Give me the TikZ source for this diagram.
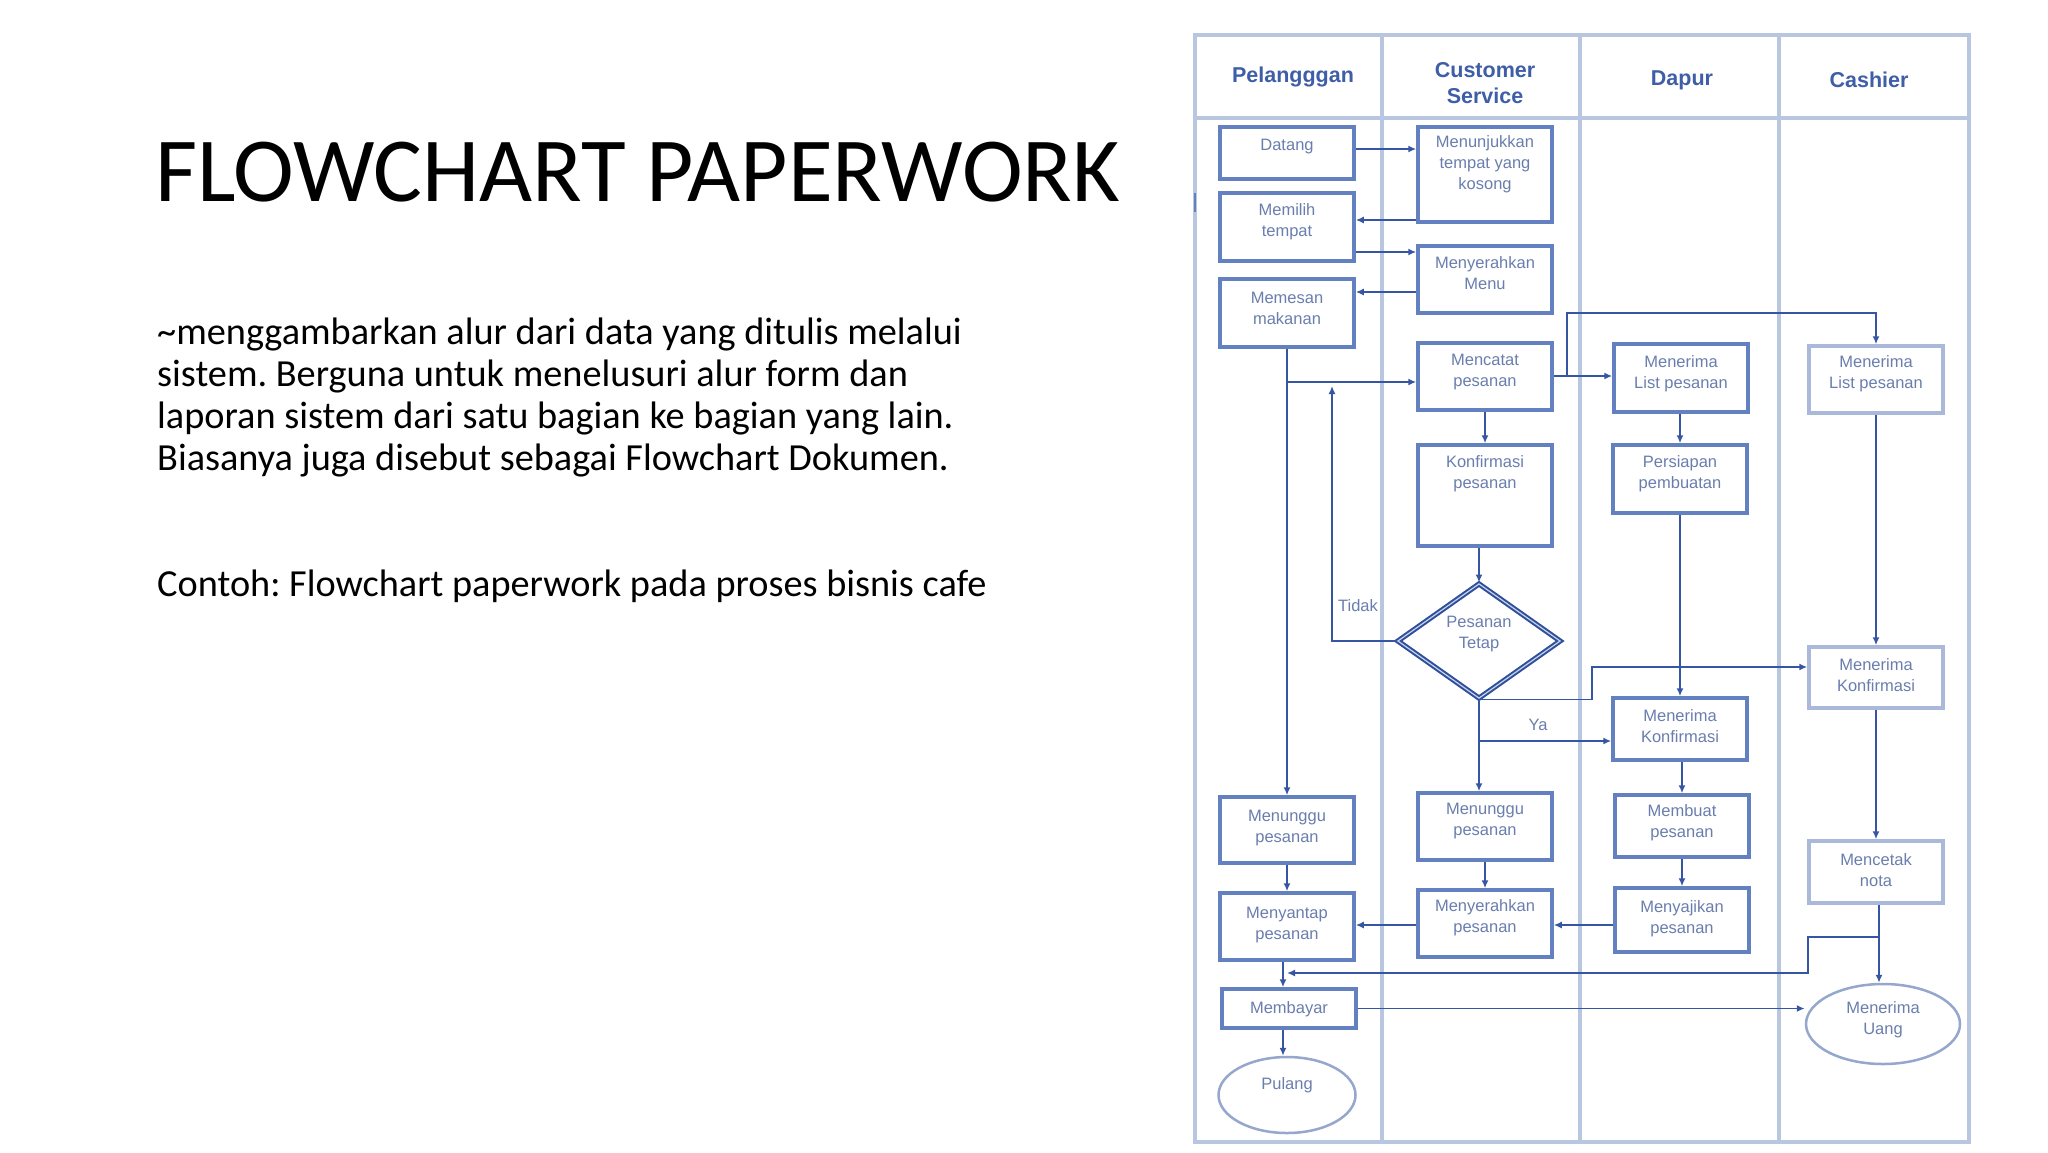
\documentclass[tikz,border=0pt]{standalone}
\usepackage{fontspec}
\setmainfont{Carlito}
\newfontfamily\dfont{Liberation Sans}
\usetikzlibrary{arrows.meta,shapes.geometric}
\definecolor{frameC}{HTML}{B8C6E0}
\definecolor{boxC}{HTML}{6381C0}
\definecolor{cashC}{HTML}{AAB9DA}
\definecolor{arrC}{HTML}{3656A3}
\definecolor{txtC}{HTML}{6A7EAE}
\definecolor{headC}{HTML}{3F5EA8}
\definecolor{diaC}{HTML}{2F4F9A}
\definecolor{diaIn}{HTML}{C8D3EA}
\definecolor{ellC}{HTML}{95A7CD}
\frenchspacing
\begin{document}
\begin{tikzpicture}[x=1pt,y=-1pt,
  bx/.style={draw=boxC,line width=3.5pt,minimum width=134pt,inner sep=0pt},
  cbx/.style={bx,draw=cashC},
  tx/.style={font=\dfont\fontsize{16.5}{21}\selectfont,text=txtC,align=center,inner sep=0pt},
  hd/.style={font=\dfont\bfseries\fontsize{21.5}{26}\selectfont,text=headC,align=center,inner sep=0pt},
  arr/.style={draw=arrC,line width=1.8pt,-{Latex[length=8pt,width=7pt]}},
  fr/.style={draw=frameC,line width=4pt},
  bodyt/.style={anchor=base west,inner sep=0pt,font=\fontsize{38.3}{42}\selectfont}]
\fill[white] (0,0) rectangle (2048,1152);
\useasboundingbox (0,0) rectangle (2048,1152);
% slide text
\node[anchor=base west,inner sep=0pt,font=\fontsize{91.6}{100}\selectfont] (title) at (155,201) {FLOWCHART PAPERWORK};
\node[bodyt] (b1) at (157,344) {\textasciitilde menggambarkan alur dari data yang ditulis melalui};
\node[bodyt] (b2) at (157,386) {sistem. Berguna untuk menelusuri alur form dan};
\node[bodyt] (b3) at (157,428) {laporan sistem dari satu bagian ke bagian yang lain.};
\node[bodyt] (b4) at (157,470) {Biasanya juga disebut sebagai Flowchart Dokumen.};
\node[bodyt] (b5) at (157,596) {Contoh: Flowchart paperwork pada proses bisnis cafe};
% swimlane frame
\draw[fr] (1195,35) rectangle (1969,1142);
\draw[fr] (1195,118) -- (1969,118);
\draw[fr] (1382,35) -- (1382,1142);
\draw[fr] (1580,35) -- (1580,1142);
\draw[fr] (1779,35) -- (1779,1142);
\draw[draw=boxC,line width=2pt] (1195,193) -- (1195,212);
\node[hd] (h1) at (1293,77) {Pelangggan};
\node[hd] (h2) at (1485,83) {Customer\\Service};
\node[hd] (h3) at (1682,80) {Dapur};
\node[hd] (h4) at (1869,80) {Cashier};
% Pelanggan
\node[bx,minimum height=52pt] (datang) at (1287,153) {};
\node[tx] (datang-t) at (1287,147) {Datang};
\node[bx,minimum height=68pt] (memilih) at (1287,227) {};
\node[tx] (memilih-t) at (1287,221.5) {Memilih\\tempat};
\node[bx,minimum height=68pt] (memesan) at (1287,313) {};
\node[tx] (memesan-t) at (1287,308.5) {Memesan\\makanan};
\node[bx,minimum height=66pt] (pmenunggu) at (1287,830) {};
\node[tx] (pmenunggu-t) at (1287,828) {Menunggu\\pesanan};
\node[bx,minimum height=67pt] (menyantap) at (1287,926.5) {};
\node[tx] (menyantap-t) at (1287,925) {Menyantap\\pesanan};
\node[bx,minimum height=39pt] (membayar) at (1289,1008.5) {};
\node[tx] (membayar-t) at (1289,1009) {Membayar};
\node[ellipse,draw=ellC,line width=2.5pt,minimum width=137pt,minimum height=76pt,inner sep=0pt] (pulang) at (1287,1095) {};
\node[tx] (pulang-t) at (1287,1085) {Pulang};
% Customer Service
\node[bx,minimum height=95pt] (menunjuk) at (1485,174.5) {};
\node[tx] (menunjuk-t) at (1485,164) {Menunjukkan\\tempat yang\\kosong};
\node[bx,minimum height=67pt] (menyerah) at (1485,279.5) {};
\node[tx] (menyerah-t) at (1485,273.5) {Menyerahkan\\Menu};
\node[bx,minimum height=67pt] (mencatat) at (1485,376.5) {};
\node[tx] (mencatat-t) at (1485,372) {Mencatat\\pesanan};
\node[bx,minimum height=101pt] (konf) at (1485,495.5) {};
\node[tx] (konf-t) at (1485,473.5) {Konfirmasi\\pesanan};
\node[diamond,draw=diaC,double=diaIn,double distance=1.2pt,line width=2pt,minimum width=163pt,minimum height=115pt,inner sep=0pt] (dia) at (1479,641) {};
\node[tx] (dia-t) at (1479,634.5) {Pesanan\\Tetap};
\node[bx,minimum height=67pt] (csmenunggu) at (1485,826.5) {};
\node[tx] (csmenunggu-t) at (1485,821.5) {Menunggu\\pesanan};
\node[bx,minimum height=67pt] (csmenyerah) at (1485,923.5) {};
\node[tx] (csmenyerah-t) at (1485,918) {Menyerahkan\\pesanan};
% Dapur
\node[bx,minimum height=68pt] (dlist) at (1681,378) {};
\node[tx] (dlist-t) at (1681,373.5) {Menerima\\List pesanan};
\node[bx,minimum height=68pt] (persiapan) at (1680,479) {};
\node[tx] (persiapan-t) at (1680,473.5) {Persiapan\\pembuatan};
\node[bx,minimum height=62pt] (dkonf) at (1680,729) {};
\node[tx] (dkonf-t) at (1680,726.5) {Menerima\\Konfirmasi};
\node[bx,minimum height=62pt] (membuat) at (1682,826) {};
\node[tx] (membuat-t) at (1682,823) {Membuat\\pesanan};
\node[bx,minimum height=64pt] (menyajikan) at (1682,920) {};
\node[tx] (menyajikan-t) at (1682,918.5) {Menyajikan\\pesanan};
% Cashier
\node[cbx,minimum height=67pt] (clist) at (1876,379.5) {};
\node[tx] (clist-t) at (1876,373.5) {Menerima\\List pesanan};
\node[cbx,minimum height=61pt] (ckonf) at (1876,677.5) {};
\node[tx] (ckonf-t) at (1876,675.5) {Menerima\\Konfirmasi};
\node[cbx,minimum height=62pt] (mencetak) at (1876,872) {};
\node[tx] (mencetak-t) at (1876,870) {Mencetak\\nota};
\node[ellipse,draw=ellC,line width=2.5pt,minimum width=154pt,minimum height=80pt,inner sep=0pt] (uang) at (1883,1024) {};
\node[tx] (uang-t) at (1883,1020) {Menerima\\Uang};
% labels
\node[tx] (tidak) at (1358,606) {Tidak};
\node[tx] (ya) at (1538,725) {Ya};
% junction coordinates
\coordinate (tidakEnd) at (1332,386);
\coordinate (br1) at (1567,376);
\coordinate (c2) at (1592,702);
\coordinate (c3) at (1808,973);
% connectors
\draw[arr] (datang.east |- 0,149) -- (menunjuk.west |- 0,149);
\draw[arr] (menunjuk.west |- 0,220) -- (memilih.east |- 0,220);
\draw[arr] (memilih.east |- 0,252) -- (menyerah.west |- 0,252);
\draw[arr] (menyerah.west |- 0,292) -- (memesan.east |- 0,292);
\draw[arr] (memesan.south) |- (mencatat.west |- 0,382);
\draw[arr] (memesan.south) -- (pmenunggu.north);
\draw[arr] (dia.west) -| (tidakEnd);
\draw[arr] (mencatat.east |- br1) -- (dlist.west |- br1);
\draw[arr] (br1) |- (clist.north |- 0,313) -- (clist.north);
\draw[arr] (mencatat.south) -- (konf.north);
\draw[arr] (konf.south -| dia.north) -- (dia.north);
\draw[arr] (dia.south) -- (dia.south |- csmenunggu.north);
\draw[arr] (dia.south |- 0,741) -- (dkonf.west |- 0,741);
\draw[arr] (dia.south) -- (dia.south -| c2) |- (ckonf.west |- 0,667);
\draw[arr] (dlist.south -| persiapan.north) -- (persiapan.north);
\draw[arr] (persiapan.south) -- (dkonf.north);
\draw[arr] (clist.south) -- (ckonf.north);
\draw[arr] (ckonf.south) -- (mencetak.north);
\draw[arr] (dkonf.south -| membuat.north) -- (membuat.north);
\draw[arr] (membuat.south) -- (menyajikan.north);
\draw[arr] (menyajikan.west |- 0,925) -- (csmenyerah.east |- 0,925);
\draw[arr] (csmenunggu.south) -- (csmenyerah.north);
\draw[arr] (csmenyerah.west |- 0,925) -- (menyantap.east |- 0,925);
\draw[arr] (pmenunggu.south) -- (menyantap.north);
\draw[arr] ([xshift=-4pt]menyantap.south) -- ([xshift=-4pt]menyantap.south |- membayar.north);
\draw[arr] ([xshift=3pt]mencetak.south) -- ([xshift=3pt]mencetak.south |- uang.north);
\draw[arr] ([xshift=3pt]mencetak.south |- 0,937) -| (c3) -- ([xshift=0pt]menyantap.south |- c3);
\draw[arr] (membayar.east) -- (uang.west |- membayar.east);
\draw[arr] ([xshift=-6pt]membayar.south) -- ([xshift=-6pt]membayar.south |- pulang.north);
\end{tikzpicture}
\end{document}
